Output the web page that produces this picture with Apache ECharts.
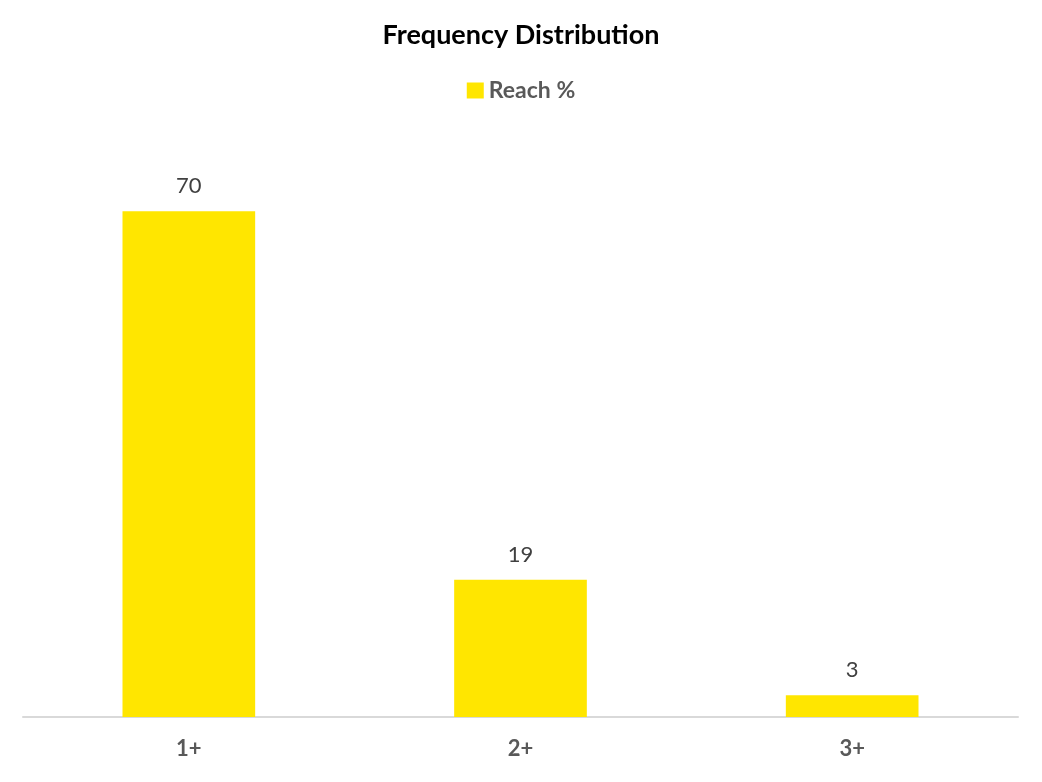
<!DOCTYPE html>
<html><head><meta charset="utf-8">
<script src="https://cdn.jsdelivr.net/npm/echarts@6/dist/echarts.min.js"></script>
<style>html,body{margin:0;padding:0;background:#fff}#c{width:1042px;height:782px}</style>
</head><body><div id="c"></div>
<script>
const categories = ['1+', '2+', '3+'];
const reach = [70, 19, 3];
const seriesName = 'Reach %';
const chartTitle = 'Frequency Distribution';

const chart = echarts.init(document.getElementById('c'));
chart.setOption({
  animation: false,
  backgroundColor: '#ffffff',
  title: {
    text: chartTitle, left: 'center', top: 17,
    textStyle: { fontFamily: 'Lato', fontWeight: 'bold', fontSize: 27, color: '#000000' }
  },
  legend: {
    data: [seriesName], left: 'center', top: 74,
    icon: 'rect', itemWidth: 17, itemHeight: 16, itemGap: 8,
    textStyle: { fontFamily: 'Lato', fontWeight: 'bold', fontSize: 23, color: '#595959' }
  },
  grid: { left: 23, right: 24, top: 139, bottom: 65, containLabel: false },
  xAxis: {
    type: 'category', data: categories,
    axisLine: { lineStyle: { color: '#D9D9D9', width: 2 } },
    axisTick: { show: false },
    axisLabel: { margin: 21, fontFamily: 'Lato', fontWeight: 'bold', fontSize: 22, color: '#595959' }
  },
  yAxis: { type: 'value', min: 0, max: 80, show: false, splitLine: { show: false } },
  series: [{
    name: seriesName, type: 'bar', data: reach, barWidth: '40%',
    itemStyle: { color: '#FFE600' },
    label: { show: true, position: 'top', distance: 14, fontFamily: 'Lato', fontSize: 22, color: '#404040' }
  }]
});
</script></body></html>
